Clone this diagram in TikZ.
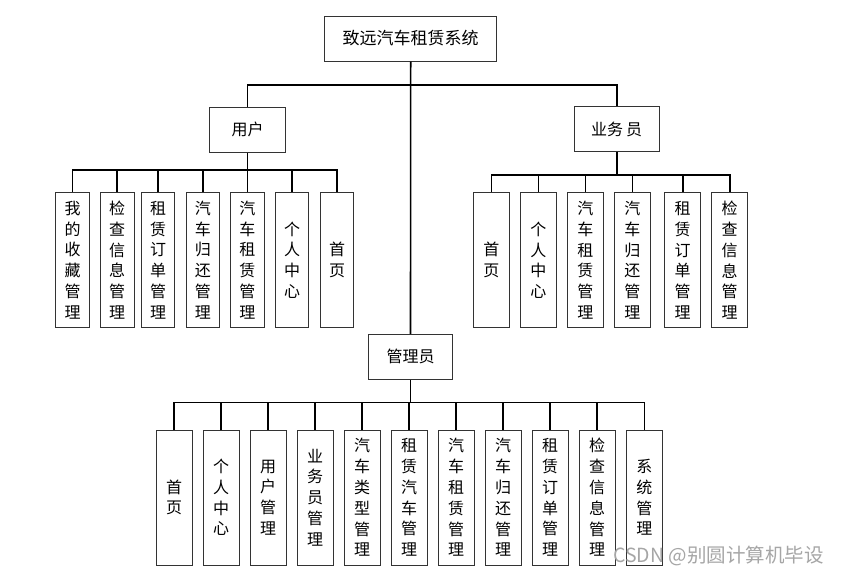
\documentclass[tikz,border=0pt]{standalone}
\usepackage{fontspec}
\setmainfont{Noto Sans CJK SC}
\newfontfamily\wmfont{Noto Sans CJK SC}
\begin{document}
\begin{tikzpicture}[x=1pt,y=-1pt,
  box/.style={draw=black!80,line width=1pt,fill=white,inner sep=0pt,align=center,
    font=\fontsize{16}{20.8}\selectfont},
  topbox/.style={box,minimum width=172pt,minimum height=45pt,font=\fontsize{17}{20}\selectfont},
  midbox/.style={box,minimum width=85pt,minimum height=45pt},
  ubox/.style={box,minimum width=33.6pt,minimum height=134.5pt},
  cbox/.style={box,minimum width=36pt,minimum height=135pt},
  conn/.style={draw=black,line width=1.6pt}]
\useasboundingbox (0,0) rectangle (841,576);
\fill[white] (0,0) rectangle (841,576);

\node[topbox] (root) at (410.7,38.5) {致远汽车租赁系统};
\node[midbox,minimum width=76.4pt] (user) at (247.5,129.5) {用户};
\node[midbox] (biz) at (616.7,129.2) {业务\hspace{3pt}员};
\node[midbox,minimum width=84.4pt] (adm) at (410.5,356.8) {管理员};

% user children
\node[ubox] (u1) at (72.5,260) {我\\的\\收\\藏\\管\\理};
\node[ubox] (u2) at (117.2,260) {检\\查\\信\\息\\管\\理};
\node[ubox] (u3) at (158,260) {租\\赁\\订\\单\\管\\理};
\node[ubox] (u4) at (202.8,260) {汽\\车\\归\\还\\管\\理};
\node[ubox] (u5) at (247.3,260) {汽\\车\\租\\赁\\管\\理};
\node[ubox] (u6) at (292,260) {个\\人\\中\\心};
\node[ubox] (u7) at (337,260) {首\\页};

% biz children
\node[cbox] (b1) at (491.3,260.2) {首\\页};
\node[cbox] (b2) at (538.3,260.2) {个\\人\\中\\心};
\node[cbox] (b3) at (585.3,260.2) {汽\\车\\租\\赁\\管\\理};
\node[cbox] (b4) at (632.3,260.2) {汽\\车\\归\\还\\管\\理};
\node[cbox] (b5) at (682.7,260.2) {租\\赁\\订\\单\\管\\理};
\node[cbox] (b6) at (729.7,260.2) {检\\查\\信\\息\\管\\理};

% admin children
\node[cbox] (a1) at (174,497.5) {首\\页};
\node[cbox] (a2) at (221,497.5) {个\\人\\中\\心};
\node[cbox] (a3) at (268,497.5) {用\\户\\管\\理};
\node[cbox] (a4) at (315,497.5) {业\\务\\员\\管\\理};
\node[cbox] (a5) at (362,497.5) {汽\\车\\类\\型\\管\\理};
\node[cbox] (a6) at (409,497.5) {租\\赁\\汽\\车\\管\\理};
\node[cbox] (a7) at (456,497.5) {汽\\车\\租\\赁\\管\\理};
\node[cbox] (a8) at (503,497.5) {汽\\车\\归\\还\\管\\理};
\node[cbox] (a9) at (550,497.5) {租\\赁\\订\\单\\管\\理};
\node[cbox] (a10) at (597,497.5) {检\\查\\信\\息\\管\\理};
\node[cbox] (a11) at (644.3,497.5) {系\\统\\管\\理};

% junctions
\coordinate (rj) at (410.7,85);
\coordinate (uj) at (247.5,170);
\coordinate (bj) at (616.7,175);
\coordinate (aj) at (410.5,402.5);

% root connectors
\draw[conn] (root.south) -- (adm.north);
\draw[conn] (rj) -| (user.north);
\draw[conn] (rj) -| (biz.north);

% user branch
\draw[conn] (user.south) -- (uj);
\foreach \i in {1,...,7} {\draw[conn] (uj) -| (u\i.north);}
% biz branch
\draw[conn] (biz.south) -- (bj);
\foreach \i in {1,...,6} {\draw[conn] (bj) -| (b\i.north);}
% admin branch
\draw[conn] (adm.south) -- (aj);
\foreach \i in {1,...,11} {\draw[conn] (aj) -| (a\i.north);}

% watermark
\node[text=black!35,font=\wmfont\fontsize{19.5}{22}\selectfont,anchor=west,inner sep=0pt] (wm) at (613,556) {CSDN @别圆计算机毕设};
\end{tikzpicture}
\end{document}
